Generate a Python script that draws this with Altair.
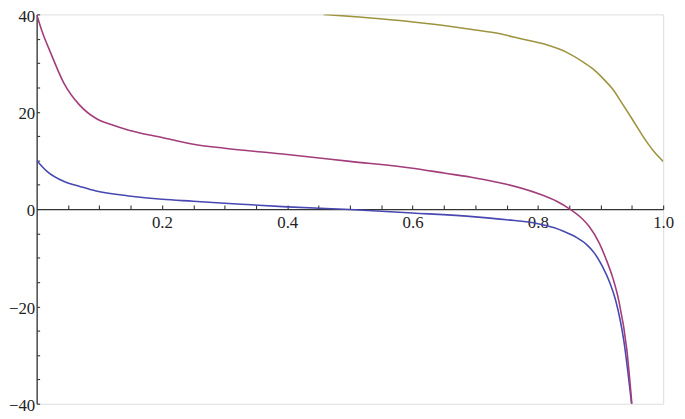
import altair as alt
import pandas as pd

# ---- data ----
blue_x = [0, 0.017, 0.043, 0.07, 0.095, 0.147, 0.2, 0.25, 0.3, 0.4, 0.5, 0.6, 0.7, 0.75,
          0.8, 0.825, 0.84, 0.86, 0.877, 0.89, 0.903, 0.915, 0.924, 0.937, 0.95]
blue_y = [10, 7.7, 5.7, 4.6, 3.7, 2.7, 2.0, 1.6, 1.2, 0.45, -0.1, -0.8, -1.6, -2.2,
          -3.0, -3.8, -4.5, -5.7, -7.2, -9.0, -11.8, -15.2, -18.7, -26.9, -40.5]

red_x = [0, 0.01, 0.022, 0.043, 0.069, 0.095, 0.12, 0.147, 0.2, 0.25, 0.3, 0.4, 0.5, 0.6,
         0.65, 0.7, 0.75, 0.8, 0.83, 0.851, 0.87, 0.882, 0.898, 0.908, 0.92, 0.929, 0.942, 0.95]
red_y = [40, 36, 32.2, 26, 21.3, 18.6, 17.3, 16.2, 14.7, 13.3, 12.5, 11.2, 9.8, 8.4,
         7.4, 6.4, 5.1, 3.2, 1.6, 0, -1.9, -3.6, -7.0, -10.0, -14.3, -18.7, -28.9, -40]

olive_x = [0.458, 0.52, 0.591, 0.65, 0.695, 0.74, 0.773, 0.81, 0.846, 0.87, 0.888, 0.905,
           0.919, 0.935, 0.95, 0.965, 0.976, 0.988, 1.0]
olive_y = [40.0, 39.4, 38.6, 37.7, 36.9, 36.0, 35.0, 33.9, 32.2, 30.4, 28.8, 26.7,
           24.7, 21.6, 18.6, 15.5, 13.4, 11.4, 9.8]

series_names = ["blue", "red", "olive"]
series_colors = ["#4848b2", "#a23d7a", "#9e9440"]

x_ticks = [round(0.05 * i, 2) for i in range(1, 21)]
y_ticks = [5 * i for i in range(-8, 9)]

rows = []
for name, xs, ys in [("blue", blue_x, blue_y), ("red", red_x, red_y), ("olive", olive_x, olive_y)]:
    for i, (a, b) in enumerate(zip(xs, ys)):
        rows.append({"series": name, "x": a, "y": b, "order": i})
df = pd.DataFrame(rows)

W = 634
H = 394
FONT = "Liberation Serif"

x_axis = alt.Axis(
    orient="top", offset=-H / 2, values=x_ticks, grid=False,
    labelExpr="(round(datum.value*100) % 20 == 0) ? format(datum.value, '.1f') : ''",
    tickSize=4, labelPadding=-23, labelBaseline="alphabetic", labelAlign="center",
    labelFlush=False, labelOverlap=False, title=None,
    domainColor="#333333", tickColor="#333333", domainWidth=1.3, tickWidth=1.1,
    labelFontSize=17, labelColor="#222222",
)
y_axis = alt.Axis(
    orient="right", offset=-W, values=y_ticks, grid=False,
    labelExpr="(datum.value % 20 == 0) ? replace(format(datum.value, 'd'), '-', '\u2212') : ''",
    tickSize=3, labelPadding=-5, labelAlign="right", labelBaseline="middle", labelOffset=2,
    labelFlush=False, labelOverlap=False, title=None,
    domainColor="#333333", tickColor="#333333", domainWidth=1.3, tickWidth=1.1,
    labelFontSize=17, labelColor="#222222",
)

chart = alt.Chart(df).mark_line(clip=True, strokeWidth=1.6, interpolate="monotone").encode(
    x=alt.X("x:Q", scale=alt.Scale(domain=[0, 1], nice=False, zero=False), axis=x_axis),
    y=alt.Y("y:Q", scale=alt.Scale(domain=[-40, 40], nice=False), axis=y_axis),
    color=alt.Color("series:N", scale=alt.Scale(domain=series_names, range=series_colors), legend=None),
    detail="series:N",
    order="order:Q",
).properties(
    width=W, height=H,
    autosize=alt.AutoSizeParams(type="none"),
    padding={"left": 29, "top": 4, "right": 14, "bottom": 13},
).configure_view(stroke=None).configure(
    background="white", font=FONT
).configure_axis(labelFont=FONT)

chart.save("out.html", embed_options={"renderer": "svg", "actions": False})
